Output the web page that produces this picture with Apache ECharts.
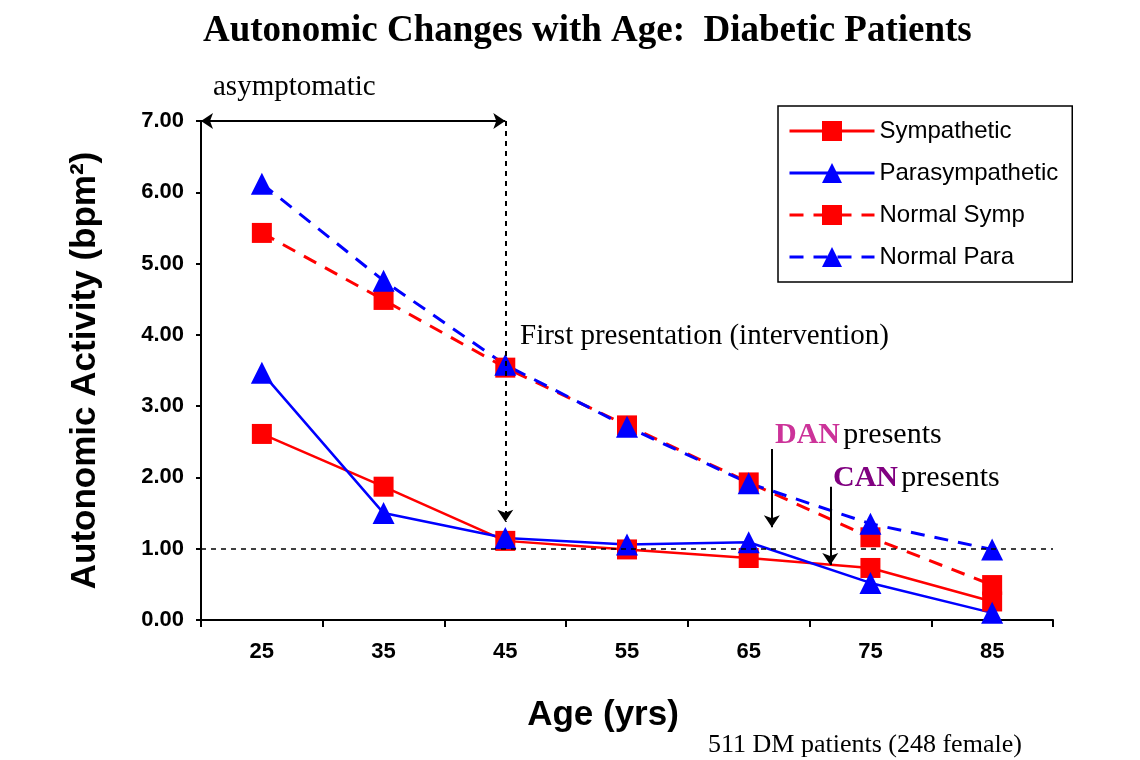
<!DOCTYPE html>
<html>
<head>
<meta charset="utf-8">
<script src="https://cdn.jsdelivr.net/npm/echarts@6/dist/echarts.min.js"></script>
<style>
  html, body { margin: 0; padding: 0; background: #fff; }
  #main { width: 1140px; height: 760px; }
</style>
</head>
<body>
<div id="main"></div>
<script>
// 数据
var ages = [25, 35, 45, 55, 65, 75, 85];
var ageLabels = ['25', '35', '45', '55', '65', '75', '85'];
var sympathetic = [2.61, 1.87, 1.11, 0.99, 0.87, 0.73, 0.26];
var parasympathetic = [3.47, 1.50, 1.15, 1.06, 1.09, 0.52, 0.10];
var normalSymp = [5.43, 4.49, 3.54, 2.73, 1.93, 1.16, 0.49];
var normalPara = [6.12, 4.76, 3.58, 2.71, 1.92, 1.35, 0.99];
var yTicks = [0, 1, 2, 3, 4, 5, 6, 7];
// 注释箭头 (age, value)
var firstArrow = [[45, 7], [45, 1.38]];
var asymArrow = [[20, 7], [45, 7]];
var danArrow = [[66.9, 2.40], [66.9, 1.30]];
var canArrow = [[71.7, 1.87], [71.7, 0.77]];
var baseline = 1.0;

function pairs(vals) {
    return ages.map(function (a, i) { return [a, vals[i]]; });
}

(function () {
    var myChart = echarts.init(document.getElementById('main'));
    var serif = 'Liberation Serif';
    var sans = 'Liberation Sans';
    var dash = [14, 10];

    function arrowLine(pts, type, both) {
        return [
            { coord: pts[0], symbol: both ? 'arrow' : 'none', symbolSize: 12,
              lineStyle: { color: '#000', width: 2, type: type } },
            { coord: pts[1], symbol: 'arrow', symbolSize: 12 }
        ];
    }

    var option = {
        backgroundColor: '#fff',
        animation: false,
        title: {
            text: 'Autonomic Changes with Age:  Diabetic Patients',
            left: 198,
            top: 8,
            textStyle: { fontFamily: serif, fontWeight: 'bold', fontSize: 37, color: '#000' }
        },
        legend: {
            orient: 'vertical',
            left: 778,
            top: 106,
            padding: [13, 14, 13, 10],
            itemWidth: 85,
            itemHeight: 25,
            itemGap: 18,
            borderColor: '#000',
            borderWidth: 1.5,
            lineStyle: { width: 3 },
            textStyle: { fontFamily: sans, fontSize: 24, color: '#000' },
            data: ['Sympathetic', 'Parasympathetic', 'Normal Symp', 'Normal Para']
        },
        grid: { left: 201, right: 87, top: 121, bottom: 140 },
        xAxis: [
            {
                type: 'value',
                min: 20,
                max: 90,
                interval: 10,
                axisLine: { show: true, lineStyle: { color: '#000', width: 2 } },
                axisTick: { show: true, length: 7, lineStyle: { color: '#000', width: 2 } },
                axisLabel: { show: false },
                splitLine: { show: false }
            },
            {
                type: 'category',
                position: 'bottom',
                data: ageLabels,
                boundaryGap: true,
                axisLine: { show: false },
                axisTick: { show: false },
                axisLabel: { margin: 21, fontFamily: sans, fontWeight: 'bold', fontSize: 22, color: '#000' },
                name: 'Age (yrs)',
                nameLocation: 'middle',
                nameGap: 78,
                nameTextStyle: { fontFamily: sans, fontWeight: 'bold', fontSize: 35, color: '#000', padding: [0, 48, 0, 0] }
            }
        ],
        yAxis: {
            type: 'value',
            min: yTicks[0],
            max: yTicks[yTicks.length - 1],
            interval: 1,
            axisLine: { show: true, lineStyle: { color: '#000', width: 2 } },
            axisTick: { show: true, length: 5, lineStyle: { color: '#000', width: 2 } },
            axisLabel: {
                margin: 17,
                fontFamily: sans, fontWeight: 'bold', fontSize: 22, color: '#000',
                formatter: function (v) { return v.toFixed(2); }
            },
            splitLine: { show: false },
            name: 'Autonomic Activity (bpm²)',
            nameLocation: 'middle',
            nameGap: 98,
            nameTextStyle: { fontFamily: sans, fontWeight: 'bold', fontSize: 35, color: '#000' }
        },
        series: [
            {
                name: 'Sympathetic',
                type: 'line',
                data: pairs(sympathetic),
                symbol: 'rect',
                symbolSize: 20,
                itemStyle: { color: '#ff0000' },
                lineStyle: { color: '#ff0000', width: 2.5 },
                markLine: {
                    silent: true,
                    animation: false,
                    label: { show: false },
                    symbol: ['none', 'none'],
                    data: [
                        { yAxis: baseline, lineStyle: { color: '#000', width: 1.5, type: [5, 5] } },
                        arrowLine(firstArrow, [5, 5], false),
                        arrowLine(asymArrow, 'solid', true),
                        arrowLine(danArrow, 'solid', false),
                        arrowLine(canArrow, 'solid', false)
                    ]
                }
            },
            {
                name: 'Parasympathetic',
                type: 'line',
                data: pairs(parasympathetic),
                symbol: 'triangle',
                symbolSize: 22,
                itemStyle: { color: '#0000ff' },
                lineStyle: { color: '#0000ff', width: 2.5 }
            },
            {
                name: 'Normal Symp',
                type: 'line',
                data: pairs(normalSymp),
                symbol: 'rect',
                symbolSize: 20,
                itemStyle: { color: '#ff0000' },
                lineStyle: { color: '#ff0000', width: 3, type: dash }
            },
            {
                name: 'Normal Para',
                type: 'line',
                data: pairs(normalPara),
                symbol: 'triangle',
                symbolSize: 22,
                itemStyle: { color: '#0000ff' },
                lineStyle: { color: '#0000ff', width: 3, type: dash }
            }
        ],
        graphic: [
            { type: 'text', x: 213, y: 87,
              style: { text: 'asymptomatic', fontFamily: serif, fontSize: 29, fill: '#000', verticalAlign: 'middle' } },
            { type: 'text', x: 520, y: 336,
              style: { text: 'First presentation (intervention)', fontFamily: serif, fontSize: 29, fill: '#000', verticalAlign: 'middle' } },
            { type: 'text', x: 775, y: 435,
              style: {
                  text: '{a|DAN} {b|presents}',
                  verticalAlign: 'middle',
                  rich: {
                      a: { fontFamily: serif, fontSize: 30, fontWeight: 'bold', fill: '#cc3399', color: '#cc3399' },
                      b: { fontFamily: serif, fontSize: 30, fill: '#000', color: '#000' }
                  }
              } },
            { type: 'text', x: 833, y: 478,
              style: {
                  text: '{a|CAN} {b|presents}',
                  verticalAlign: 'middle',
                  rich: {
                      a: { fontFamily: serif, fontSize: 30, fontWeight: 'bold', fill: '#800080', color: '#800080' },
                      b: { fontFamily: serif, fontSize: 30, fill: '#000', color: '#000' }
                  }
              } },
            { type: 'text', x: 708, y: 745,
              style: { text: '511 DM patients (248 female)', fontFamily: serif, fontSize: 26, fill: '#000', verticalAlign: 'middle' } }
        ]
    };
    myChart.setOption(option);
})();
</script>
</body>
</html>
